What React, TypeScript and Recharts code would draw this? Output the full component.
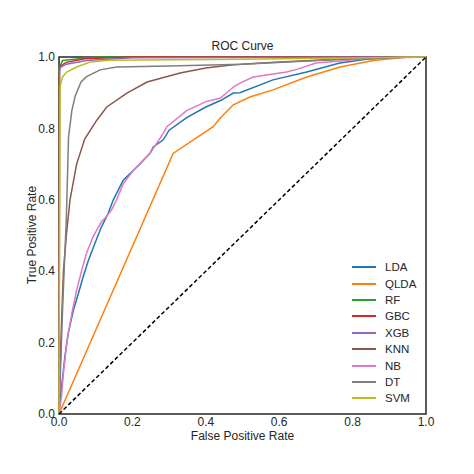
import React from "react";
import { LineChart, Line, XAxis, YAxis, ReferenceArea } from "recharts";

const W = 474;
const H = 474;
const FONT = "'Liberation Sans', Arial, sans-serif";
const INK = "#262626";

// ROC points per model, [fpr, tpr]
const LDA: [number, number][] = [
  [0, 0], [0.003, 0.039], [0.007, 0.076], [0.016, 0.16], [0.025, 0.226], [0.039, 0.29],
  [0.053, 0.338], [0.066, 0.385], [0.08, 0.43], [0.098, 0.478], [0.116, 0.525], [0.134, 0.562],
  [0.148, 0.6], [0.175, 0.655], [0.203, 0.683], [0.22, 0.7], [0.248, 0.73], [0.257, 0.748],
  [0.284, 0.768], [0.3, 0.795], [0.348, 0.83], [0.4, 0.86], [0.44, 0.878], [0.475, 0.899],
  [0.493, 0.9], [0.583, 0.936], [0.675, 0.958], [0.765, 0.983], [0.838, 0.994], [0.95, 1], [1, 1],
];
const QLDA: [number, number][] = [
  [0, 0], [0.311, 0.73], [0.42, 0.805], [0.44, 0.83], [0.475, 0.866], [0.52, 0.888],
  [0.583, 0.908], [0.675, 0.944], [0.766, 0.972], [0.857, 0.99], [0.95, 1], [1, 1],
];
const RF: [number, number][] = [
  [0, 0], [0, 0.97], [0.01, 0.99], [0.1, 1], [1, 1],
];
const GBC: [number, number][] = [
  [0, 0], [0.001, 0.96], [0.004, 0.975], [0.02, 0.985], [0.07, 0.995], [0.2, 1], [1, 1],
];
const XGB: [number, number][] = [
  [0, 0], [0.002, 0.965], [0.005, 0.972], [0.02, 0.98], [0.075, 0.99], [0.2, 0.998], [1, 1],
];
const KNN: [number, number][] = [
  [0, 0], [0.005, 0.2], [0.012, 0.4], [0.02, 0.5], [0.03, 0.6], [0.048, 0.7], [0.07, 0.77],
  [0.103, 0.823], [0.13, 0.86], [0.185, 0.899], [0.24, 0.93], [0.33, 0.955], [0.4, 0.969],
  [0.475, 0.978], [0.6, 0.986], [0.75, 0.993], [0.9, 1], [1, 1],
];
const NB: [number, number][] = [
  [0, 0], [0.007, 0.05], [0.012, 0.114], [0.021, 0.198], [0.035, 0.282], [0.048, 0.347],
  [0.062, 0.403], [0.075, 0.45], [0.093, 0.497], [0.116, 0.539], [0.125, 0.548], [0.143, 0.571],
  [0.157, 0.6], [0.175, 0.645], [0.203, 0.683], [0.248, 0.73], [0.284, 0.786], [0.294, 0.805],
  [0.348, 0.85], [0.4, 0.875], [0.44, 0.885], [0.475, 0.916], [0.493, 0.927], [0.529, 0.944],
  [0.62, 0.958], [0.65, 0.966], [0.7, 0.983], [0.766, 0.989], [0.84, 0.996], [0.95, 1], [1, 1],
];
const DT: [number, number][] = [
  [0, 0], [0.01, 0.3], [0.02, 0.55], [0.026, 0.776], [0.035, 0.85], [0.044, 0.89], [0.06, 0.93],
  [0.075, 0.945], [0.112, 0.964], [0.157, 0.972], [0.3, 0.975], [0.5, 0.98], [0.8, 0.995], [1, 1],
];
const SVM: [number, number][] = [
  [0, 0], [0.002, 0.6], [0.003, 0.916], [0.01, 0.945], [0.021, 0.958], [0.048, 0.972],
  [0.085, 0.986], [0.139, 0.991], [0.5, 0.994], [1, 1],
];
const CHANCE: [number, number][] = [[0, 0], [1, 1]];

const SERIES = [
  { name: "LDA", pts: LDA, color: "#1f77b4" },
  { name: "QLDA", pts: QLDA, color: "#ff7f0e" },
  { name: "RF", pts: RF, color: "#2ca02c" },
  { name: "GBC", pts: GBC, color: "#d62728" },
  { name: "XGB", pts: XGB, color: "#9467bd" },
  { name: "KNN", pts: KNN, color: "#8c564b" },
  { name: "NB", pts: NB, color: "#e377c2" },
  { name: "DT", pts: DT, color: "#7f7f7f" },
  { name: "SVM", pts: SVM, color: "#bcbd22" },
];

const TICKS = [0, 0.2, 0.4, 0.6, 0.8, 1.0];

const toRows = (pts: [number, number][]) => pts.map(([x, y]) => ({ x, y }));

function RocLegend() {
  return (
    <div style={{ position: "absolute", left: 352, top: 259, fontFamily: FONT, fontSize: 11.5, color: INK }}>
      {SERIES.map((s) => (
        <div key={s.name} style={{ display: "flex", alignItems: "center", height: 16.4 }}>
          <span style={{ display: "inline-block", width: 24, height: 2, background: s.color, marginRight: 9 }} />
          <span>{s.name}</span>
        </div>
      ))}
    </div>
  );
}

export default function App() {
  const tick = { fontSize: 12, fill: INK, fontFamily: FONT };
  return (
    <div style={{ position: "absolute", left: 0, top: 0, width: W, height: H, background: "#fff" }}>
      <LineChart width={W} height={H} margin={{ top: 57, right: 48, left: 0, bottom: 0 }}>
        <XAxis
          type="number" dataKey="x" domain={[0, 1]} ticks={TICKS} height={60}
          tickFormatter={(v: number) => v.toFixed(1)} tick={tick}
          tickLine={false} tickSize={0} tickMargin={3} axisLine={false} allowDuplicatedCategory={false}
        />
        <YAxis
          type="number" dataKey="y" domain={[0, 1]} ticks={TICKS} width={59}
          tickFormatter={(v: number) => v.toFixed(1)} tick={tick}
          tickLine={false} tickSize={0} tickMargin={4} axisLine={false}
        />
        {SERIES.map((s) => (
          <Line
            key={s.name} data={toRows(s.pts)} dataKey="y" name={s.name} type="linear"
            stroke={s.color} strokeWidth={1.5} dot={false} isAnimationActive={false}
          />
        ))}
        <Line
          data={toRows(CHANCE)} dataKey="y" type="linear" stroke="#000" strokeWidth={1.5}
          strokeDasharray="4 2.5" dot={false} isAnimationActive={false} legendType="none"
        />
        <ReferenceArea x1={0} x2={1} y1={0} y2={1} fill="none" stroke={INK} strokeWidth={1.5} ifOverflow="visible" />
      </LineChart>
      <RocLegend />
      <div style={{ position: "absolute", left: 59, width: 367, top: 39, textAlign: "center", fontFamily: FONT, fontSize: 12, color: INK }}>
        ROC Curve
      </div>
      <div style={{ position: "absolute", left: 59, width: 367, top: 429, textAlign: "center", fontFamily: FONT, fontSize: 12, color: INK }}>
        False Positive Rate
      </div>
      <div
        style={{
          position: "absolute", left: 32, top: 235, transform: "translate(-50%, -50%) rotate(-90deg)",
          whiteSpace: "nowrap", fontFamily: FONT, fontSize: 12, color: INK,
        }}
      >
        True Positive Rate
      </div>
    </div>
  );
}
